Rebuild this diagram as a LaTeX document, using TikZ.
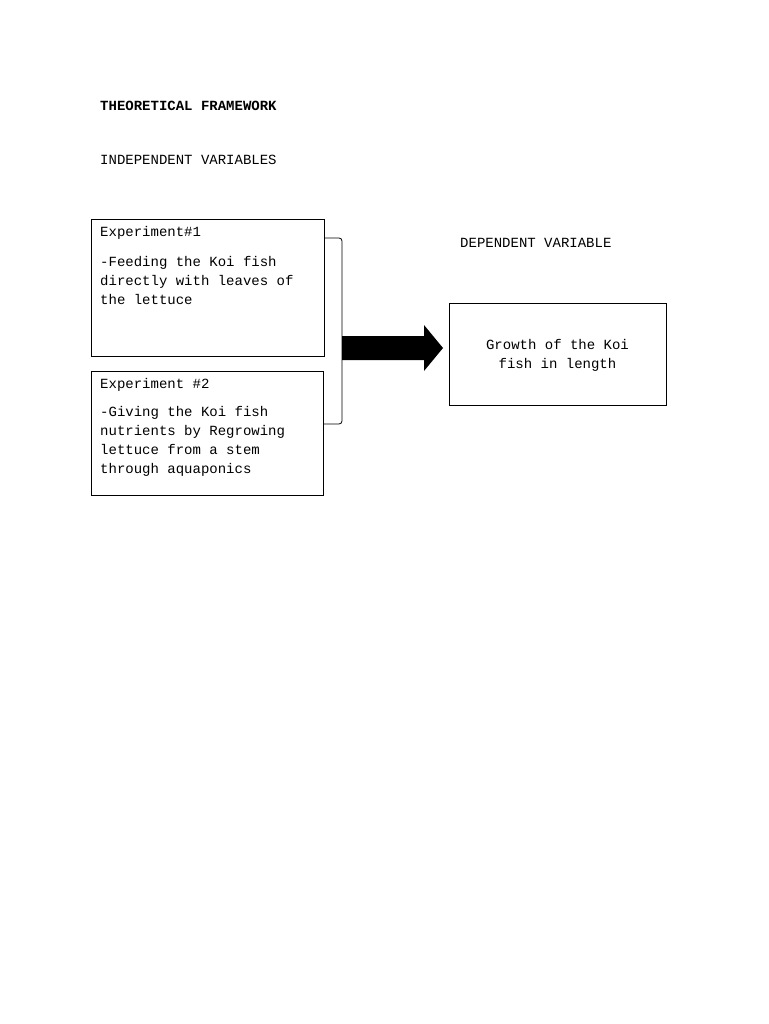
\documentclass[tikz,border=0pt]{standalone}
\usepackage{fontspec}
\setmainfont{Liberation Mono}
\begin{document}
\begin{tikzpicture}[x=1pt,y=-1pt,
  txt/.style={font=\fontsize{14}{19}\selectfont, inner sep=0pt, anchor=north west, align=left},
  box/.style={draw, line width=0.8pt, fill=white}]
\useasboundingbox (0,0) rectangle (768,1024);
\node[txt, font=\fontsize{14}{19}\selectfont\bfseries, anchor=west] (title) at (100,106) {THEORETICAL FRAMEWORK};
\node[txt, anchor=west] (indep) at (100,160) {INDEPENDENT VARIABLES};
\node[txt, anchor=west] (dep) at (460,243) {DEPENDENT VARIABLE};
% bracket
\draw[line width=0.8pt, rounded corners=3pt] (324,238) -- (342,238) -- (342,424) -- (323,424);
\draw[box] (91,219) rectangle (324,356);
\draw[box] (91,371) rectangle (323,495);
\draw[box] (449,303) rectangle (666,405);
\node[txt] (e1) at (100,226) {Experiment\#1};
\node[txt] (e1t) at (100,256) {-Feeding the Koi fish\\directly with leaves of\\the lettuce};
\node[txt] (e2) at (100,378) {Experiment \#2};
\node[txt] (e2t) at (100,406) {-Giving the Koi fish\\nutrients by Regrowing\\lettuce from a stem\\through aquaponics};
\node[txt, anchor=center, align=center] (g) at (557.5,355) {Growth of the Koi\\fish in length};
\fill[black] (342,336) -- (424,336) -- (424,325) -- (443,348) -- (424,371) -- (424,360) -- (342,360) -- cycle;
\end{tikzpicture}
\end{document}
